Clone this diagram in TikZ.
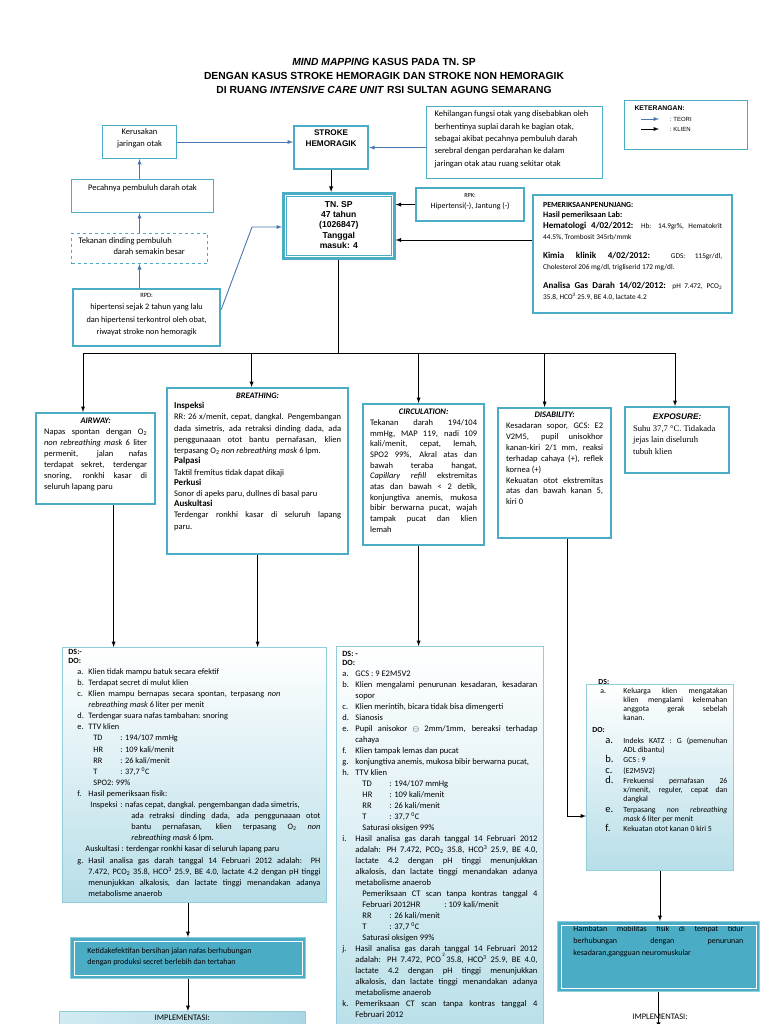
\documentclass[tikz,border=0pt]{standalone}
\usepackage{fontspec}
\setmainfont{Carlito}
\newfontfamily\arialf{Liberation Sans}
\newfontfamily\timesf{Liberation Serif}
\definecolor{tealline}{HTML}{4BACC6}
\definecolor{dsline}{HTML}{92CDDC}
\definecolor{lightbox}{HTML}{B7DEE8}
\definecolor{fillteal}{HTML}{4BACC6}
\definecolor{teoriblue}{HTML}{4A76B0}
\definecolor{barleft}{HTML}{D2EBF2}
\definecolor{barright}{HTML}{A9D7E4}
\newcommand{\boxbody}[2]{\vbox to #1{#2\par\vfill}}
\newcommand{\listitem}[4]{\par\hangindent=#2\hangafter=1\noindent\hspace*{#1}\makebox[\dimexpr#2-#1\relax][l]{#3}#4}
\newcommand{\bigitem}[2]{\par\vspace{1.5pt}\hangindent=31pt\hangafter=1\noindent\hspace*{13pt}\makebox[18pt][l]{\fontsize{10.5}{9}\selectfont #1}#2}
\newcommand{\ttvrow}[3]{\par\noindent\hspace*{#1}\makebox[27pt][l]{#2}#3}
\newcommand{\subhead}[1]{{\fontsize{9}{10}\selectfont\bfseries #1\par}}
\newcommand{\labhead}[1]{{\fontsize{9}{11}\selectfont\bfseries #1}}
\newcommand{\val}[1]{{\fontsize{7.3}{11}\selectfont #1}}
\begin{document}
\begin{tikzpicture}[x=1pt,y=-1pt,
  tbox/.style={draw=tealline,line width=2.2pt,anchor=north west,align=justify,font=\fontsize{8.5}{11.3}\selectfont},
  nbox/.style={draw=tealline,line width=1pt,anchor=north west,align=justify,font=\fontsize{8.5}{12}\selectfont},
  dsbox/.style={draw=dsline,line width=0.9pt,top color=white,bottom color=lightbox,anchor=north west,align=justify},
  dxbox/.style={draw=dsline,line width=0.9pt,fill=fillteal,anchor=north west,align=justify,font=\fontsize{8}{11}\selectfont},
  teori/.style={draw=teoriblue,line width=0.9pt,-latex},
  klien/.style={draw=black,line width=0.9pt,-latex},
  hline/.style={draw=black,line width=0.9pt}]
\useasboundingbox (0,0) rectangle (768,1024);
\clip (0,0) rectangle (768,1024);
\node(title)[font=\arialf\bfseries\fontsize{10.3}{14}\selectfont,align=center] at (384,76){\textit{MIND MAPPING} KASUS PADA TN. SP\\DENGAN KASUS STROKE HEMORAGIK DAN STROKE NON HEMORAGIK\\DI RUANG \textit{INTENSIVE CARE UNIT} RSI SULTAN AGUNG SEMARANG};
\node(kerusakan)[nbox,inner xsep=3pt,inner ysep=3.5pt,text width=68pt] at (102,125){\boxbody{26pt}{\centering Kerusakan\\jaringan otak}};
\node(pecahnya)[nbox,inner xsep=5pt,inner ysep=4.6pt,text width=132pt] at (71,179){\boxbody{23.8pt}{\centering Pecahnya pembuluh darah otak}};
\node(tekanan)[nbox,dashed,inner xsep=7pt,inner ysep=3.6pt,text width=122pt,font=\fontsize{8.5}{11}\selectfont] at (71,233){\boxbody{22.8pt}{\raggedright Tekanan dinding pembuluh\\\hspace*{35pt}darah semakin besar}};
\node(rpd)[tbox,inner xsep=4pt,inner ysep=4.5pt,text width=139pt,font=\fontsize{8.3}{12.2}\selectfont] at (72,288){\boxbody{48pt}{\centering{\fontsize{6.5}{8}\selectfont RPD:}\\hipertensi sejak 2 tahun yang lalu\\dan hipertensi terkontrol oleh obat,\\riwayat stroke non hemoragik}};
\node(stroke)[tbox,inner xsep=2pt,inner ysep=4pt,text width=70pt,font=\arialf\bfseries\fontsize{8.2}{11}\selectfont] at (293,125){\boxbody{35pt}{\centering STROKE\\HEMORAGIK}};
\node(teori)[nbox,inner xsep=8pt,inner ysep=4.5pt,text width=160pt,font=\fontsize{8.5}{12.3}\selectfont] at (426,106){\boxbody{63pt}{\raggedright Kehilangan fungsi otak yang disebabkan oleh\\berhentinya suplai darah ke bagian otak,\\sebagai akibat pecahnya pembuluh darah\\serebral dengan perdarahan ke dalam\\jaringan otak atau ruang sekitar otak}};
\node(tnsp)[tbox,line width=2.6pt,inner xsep=4pt,inner ysep=8pt,text width=103pt,font=\arialf\bfseries\fontsize{8.6}{10.3}\selectfont] at (282,192){\boxbody{49pt}{\centering TN. SP\\47 tahun\\(1026847)\\Tanggal\\masuk: 4}};
\draw[tealline,line width=0.6pt] ([shift={(4,4)}]tnsp.north west) rectangle ([shift={(-4,-4)}]tnsp.south east);
\node(rpk)[tbox,inner xsep=3pt,inner ysep=5.7pt,text width=102pt,font=\fontsize{8}{11}\selectfont] at (415,187){\boxbody{21.6pt}{\centering{\fontsize{6.3}{8}\selectfont RPK:}\\Hipertensi(-), Jantung (-)}};
\node(pemeriksaan)[tbox,inner xsep=10pt,inner ysep=7.4pt,text width=179pt,font=\fontsize{8.5}{11}\selectfont] at (532,194){\boxbody{103pt}{%
{\fontsize{7.8}{9}\selectfont\bfseries PEMERIKSAANPENUNJANG:\par}
{\fontsize{8.3}{9.5}\selectfont\bfseries Hasil pemeriksaan Lab:\par}
\labhead{Hematologi 4/02/2012:} \val{Hb: 14.9gr\%, Hematokrit\linebreak 44.5\%, Trombosit 345rb/mmk}\par
\vspace{8pt}
\labhead{Kimia klinik 4/02/2012:} \val{GDS: 115gr/dl,\linebreak Cholesterol 206 mg/dl, trigliserid 172 mg/dl.}\par
\vspace{8pt}
\labhead{Analisa Gas Darah 14/02/2012:} \val{pH 7.472, PCO\textsubscript{2}\linebreak 35.8, HCO\textsuperscript{3} 25.9, BE 4.0, lactate 4.2}}};
\node(keterangan)[nbox,inner xsep=10pt,inner ysep=5.4pt,text width=103pt] at (624,100){\boxbody{38pt}{\raggedright{\arialf\bfseries\fontsize{6.8}{8}\selectfont KETERANGAN:\par}{\arialf\fontsize{6}{10.5}\selectfont\hspace*{35pt}: TEORI\par\hspace*{35pt}: KLIEN\par}}};
\coordinate (lgTa) at ([shift={(17,19)}]keterangan.north west);
\coordinate (lgTb) at ([shift={(35,19)}]keterangan.north west);
\coordinate (lgKa) at ([shift={(17,29)}]keterangan.north west);
\coordinate (lgKb) at ([shift={(35,29)}]keterangan.north west);
\path[teori] (lgTa) -- (lgTb);
\path[klien] (lgKa) -- (lgKb);
\node(airway)[tbox,inner xsep=8pt,inner ysep=5pt,text width=103pt,font=\fontsize{8.5}{11}\selectfont] at (35,412){\boxbody{81pt}{%
{\centering\bfseries\itshape AIRWAY:\par}
Napas spontan dengan O\textsubscript{2}\linebreak \textit{non rebreathing mask} 6 liter\linebreak permenit, jalan nafas\linebreak terdapat sekret, terdengar\linebreak snoring, ronkhi kasar di\linebreak seluruh lapang paru}};
\node(breathing)[tbox,inner xsep=7pt,inner ysep=5pt,text width=167pt] at (166,387){\boxbody{156pt}{%
{\centering\fontsize{8.4}{10}\selectfont\bfseries\itshape BREATHING:\par}
\subhead{Inspeksi}
RR: 26 x/menit, cepat, dangkal. Pengembangan\linebreak dada simetris, ada retraksi dinding dada, ada\linebreak penggunaaan otot bantu pernafasan, klien\linebreak terpasang O\textsubscript{2} \textit{non rebreathing mask} 6 lpm.\par
\subhead{Palpasi}
Taktil fremitus tidak dapat dikaji\par
\subhead{Perkusi}
Sonor di apeks paru, dullnes di basal paru\par
\subhead{Auskultasi}
Terdengar ronkhi kasar di seluruh lapang\linebreak paru.}};
\node(circulation)[tbox,inner xsep=7pt,inner ysep=5pt,text width=107pt,font=\fontsize{8.5}{10.7}\selectfont] at (362,403){\boxbody{131pt}{%
{\centering\bfseries\itshape CIRCULATION:\par}
Tekanan darah 194/104\linebreak mmHg, MAP 119, nadi 109\linebreak kali/menit, cepat, lemah,\linebreak SPO2 99\%, Akral atas dan\linebreak bawah teraba hangat,\linebreak \textit{Capillary refill} ekstremitas\linebreak atas dan bawah \textless{} 2 detik,\linebreak konjungtiva anemis, mukosa\linebreak bibir berwarna pucat, wajah\linebreak tampak pucat dan klien\linebreak lemah}};
\node(disability)[tbox,inner xsep=8pt,inner ysep=4pt,text width=97pt,font=\fontsize{8.5}{10.9}\selectfont] at (497,407){\boxbody{122pt}{%
{\centering\bfseries\itshape DISABILITY:\par}
Kesadaran sopor, GCS: E2\linebreak V2M5, pupil unisokhor\linebreak kanan-kiri 2/1 mm, reaksi\linebreak terhadap cahaya (+), reflek\linebreak kornea (+)\par
Kekuatan otot ekstremitas\linebreak atas dan bawah kanan 5,\linebreak kiri 0}};
\node(exposure)[tbox,inner xsep=8pt,inner ysep=7pt,text width=88pt] at (624,406){\boxbody{52pt}{%
{\centering\arialf\bfseries\itshape\fontsize{8.2}{10}\selectfont EXPOSURE:\par}
{\raggedright\timesf\fontsize{8.6}{11.5}\selectfont Suhu 37,7 °C. Tidakada\\jejas lain diseluruh\\tubuh klien\par}}};
\node(leftDS)[dsbox,inner xsep=6pt,inner ysep=2pt,text width=252pt,font=\fontsize{8.3}{11.1}\selectfont] at (62,647){\boxbody{251pt}{%
{\fontsize{8}{8.5}\selectfont\bfseries DS:-\par DO:\par}
\rightskip=40pt
\listitem{9pt}{20pt}{a.}{Klien tidak mampu batuk secara efektif}
\listitem{9pt}{20pt}{b.}{Terdapat secret di mulut klien}
\listitem{9pt}{20pt}{c.}{Klien mampu bernapas secara spontan, terpasang \textit{non}\linebreak \textit{rebreathing mask} 6 liter per menit}
\listitem{9pt}{20pt}{d.}{Terdengar suara nafas tambahan: snoring}
\listitem{9pt}{20pt}{e.}{TTV klien}
\ttvrow{25pt}{TD}{: 194/107 mmHg}
\ttvrow{25pt}{HR}{: 109 kali/menit}
\ttvrow{25pt}{RR}{: 26 kali/menit}
\ttvrow{25pt}{T}{: 37,7 \textsuperscript{0}C}
\par\noindent\hspace*{25pt}SPO2: 99\%
\par\rightskip=0pt
\listitem{9pt}{20pt}{f.}{Hasil pemeriksaan fisik:}
\par\hangindent=63pt\hangafter=1\noindent\hspace*{22pt}Inspeksi\hspace{3pt}: nafas cepat, dangkal. pengembangan dada simetris,\newline ada retraksi dinding dada, ada penggunaaan otot\linebreak bantu pernafasan, klien terpasang O\textsubscript{2} \textit{non}\linebreak \textit{rebreathing mask} 6 lpm.
\par\noindent\hspace*{17pt}Auskultasi : terdengar ronkhi kasar di seluruh lapang paru
\listitem{9pt}{20pt}{g.}{Hasil analisa gas darah tanggal 14 Februari 2012 adalah: PH\linebreak 7.472, PCO\textsubscript{2} 35.8, HCO\textsuperscript{3} 25.9, BE 4.0, lactate 4.2 dengan pH tinggi\linebreak menunjukkan alkalosis, dan lactate tinggi menandakan adanya\linebreak metabolisme anaerob}}};
\node(middleDS)[dsbox,inner xsep=6pt,inner ysep=5pt,text width=195pt,font=\fontsize{8.5}{11}\selectfont] at (336,646){\boxbody{390pt}{%
{\fontsize{8}{9}\selectfont\bfseries DS: -\par DO:\par}
\listitem{0pt}{13pt}{a.}{GCS : 9 E2M5V2}
\listitem{0pt}{13pt}{b.}{Klien mengalami penurunan kesadaran, kesadaran sopor}
\listitem{0pt}{13pt}{c.}{Klien merintih, bicara tidak bisa dimengerti}
\listitem{0pt}{13pt}{d.}{Sianosis}
\listitem{0pt}{13pt}{e.}{Pupil anisokor $\ominus$ 2mm/1mm, bereaksi terhadap\linebreak cahaya}
\listitem{0pt}{13pt}{f.}{Klien tampak lemas dan pucat}
\listitem{0pt}{13pt}{g.}{konjungtiva anemis, mukosa bibir berwarna pucat,}
\listitem{0pt}{13pt}{h.}{TTV klien}
\ttvrow{20pt}{TD}{: 194/107 mmHg}
\ttvrow{20pt}{HR}{: 109 kali/menit}
\ttvrow{20pt}{RR}{: 26 kali/menit}
\ttvrow{20pt}{T}{: 37,7 \textsuperscript{0}C}
\par\noindent\hspace*{20pt}Saturasi oksigen 99\%
\listitem{0pt}{13pt}{i.}{Hasil analisa gas darah tanggal 14 Februari 2012\linebreak adalah: PH 7.472, PCO\textsubscript{2} 35.8, HCO\textsuperscript{3} 25.9, BE 4.0,\linebreak lactate 4.2 dengan pH tinggi menunjukkan\linebreak alkalosis, dan lactate tinggi menandakan adanya\linebreak metabolisme anaerob}
\par\hangindent=20pt\hangafter=0\noindent Pemeriksaan CT scan tanpa kontras tanggal 4\linebreak Februari 2012HR\hspace{24pt}: 109 kali/menit
\ttvrow{20pt}{RR}{: 26 kali/menit}
\ttvrow{20pt}{T}{: 37,7 \textsuperscript{0}C}
\par\noindent\hspace*{20pt}Saturasi oksigen 99\%
\listitem{0pt}{13pt}{j.}{Hasil analisa gas darah tanggal 14 Februari 2012\linebreak adalah: PH 7.472, PCO\,\raisebox{6pt}{\fontsize{5}{5}\selectfont 2}\,35.8, HCO\textsuperscript{3} 25.9, BE 4.0,\linebreak lactate 4.2 dengan pH tinggi menunjukkan\linebreak alkalosis, dan lactate tinggi menandakan adanya\linebreak metabolisme anaerob}
\listitem{0pt}{13pt}{k.}{Pemeriksaan CT scan tanpa kontras tanggal 4\linebreak Februari 2012}}};
\node(rightDS)[dsbox,inner xsep=6pt,inner ysep=2pt,text width=135pt,font=\fontsize{7.8}{9}\selectfont] at (586,684){\boxbody{182pt}{%
\vspace*{-7pt}
{\bfseries\hspace*{6pt}DS:\par}
\listitem{8pt}{31pt}{a.}{Keluarga klien mengatakan\linebreak klien mengalami kelemahan\linebreak anggota gerak sebelah\linebreak kanan.}
\par\vspace{3pt}
{\bfseries DO:\par}
\bigitem{a.}{Indeks KATZ : G (pemenuhan\linebreak ADL dibantu)}
\bigitem{b.}{GCS : 9}
\bigitem{c.}{(E2M5V2)}
\bigitem{d.}{Frekuensi pernafasan 26\linebreak x/menit, reguler, cepat dan\linebreak dangkal}
\bigitem{e.}{Terpasang \textit{non rebreathing}\linebreak \textit{mask} 6 liter per menit}
\bigitem{f.}{Kekuatan otot kanan 0 kiri 5}}};
\node(ketidak)[dxbox,inner xsep=17pt,inner ysep=10.6pt,text width=201pt] at (70,937){\boxbody{19.8pt}{\raggedright Ketidakefektifan bersihan jalan nafas berhubungan\\dengan produksi secret berlebih dan tertahan}};
\draw[white,line width=0.8pt] ([shift={(4,4)}]ketidak.north west) rectangle ([shift={(-4,-4)}]ketidak.south east);
\node(hambatan)[dxbox,inner xsep=16pt,inner ysep=4.6pt,text width=170pt,font=\fontsize{8}{12}\selectfont] at (557,921){\boxbody{60.8pt}{Hambatan mobilitas fisik di tempat tidur\linebreak berhubungan dengan penurunan\linebreak kesadaran,gangguan neuromuskular}};
\draw[white,line width=0.8pt] ([shift={(4,4)}]hambatan.north west) rectangle ([shift={(-4,-4)}]hambatan.south east);
\node(implL)[draw=dsline,line width=0.6pt,left color=barleft,right color=barright,anchor=north west,inner xsep=0pt,inner ysep=4pt,text width=246pt,font=\fontsize{8.5}{10}\selectfont] at (59,1011){\boxbody{30pt}{\centering IMPLEMENTASI:}};
\path[teori] (kerusakan.south |- pecahnya.north) -- (kerusakan.south);
\path[teori] (kerusakan.south |- tekanan.north) -- (kerusakan.south |- pecahnya.south);
\path[teori] (kerusakan.south |- rpd.north) -- (kerusakan.south |- tekanan.south);
\coordinate (rpdbend) at (252,227);
\path[teori] ([yshift=8pt]rpd.east) -- (rpdbend) -- (rpdbend -| tnsp.west);
\path[teori] (kerusakan.east) -- (kerusakan.east -| stroke.west);
\path[teori] (stroke.east -| teori.west) -- (stroke.east);
\path[klien] (stroke.south) -- (stroke.south |- tnsp.north);
\path[klien] (rpk.west) -- (rpk.west -| tnsp.east);
\coordinate (labin) at ([shift={(0,46)}]pemeriksaan.north west);
\path[klien] (labin) -- (labin -| tnsp.east);
\coordinate (brL) at (83,353);
\coordinate (brR) at (675,353);
\path[hline] (tnsp.south) -- (tnsp.south |- brL);
\path[hline] (brL) -- (brR);
\path[klien] (brL) -- (brL |- airway.north);
\coordinate (brin) at ([xshift=-6pt]breathing.north);
\path[klien] (brin |- brL) -- (brin);
\coordinate (ciin) at ([xshift=-5pt]circulation.north);
\path[klien] (ciin |- brL) -- (ciin);
\coordinate (diin) at ([xshift=-10pt]disability.north);
\path[klien] (diin |- brL) -- (diin);
\path[klien] (brR) -- (brR |- exposure.north);
\coordinate (awout) at ([xshift=18pt]airway.south);
\path[klien] (awout) -- (awout |- leftDS.north);
\path[klien] (breathing.south) -- (breathing.south |- leftDS.north);
\coordinate (ciout) at ([xshift=-5pt]circulation.south);
\path[klien] (ciout) -- (ciout |- middleDS.north);
\coordinate (diout) at ([xshift=12.5pt]disability.south);
\coordinate (rdin) at ([shift={(0,132)}]rightDS.north west);
\path[klien] (diout) |- (rdin);
\path[klien] (ketidak.north |- leftDS.south) -- (ketidak.north);
\path[klien] (ketidak.south) -- (ketidak.south |- implL.north);
\path[klien] (rightDS.south) -- (rightDS.south |- hambatan.north);
\coordinate (implRtip) at ([shift={(0,36)}]hambatan.south);
\path[klien] (hambatan.south) -- (implRtip);
\node(implR)[font=\fontsize{8.5}{10}\selectfont] at (660,1017){IMPLEMENTASI:};
\end{tikzpicture}
\end{document}
